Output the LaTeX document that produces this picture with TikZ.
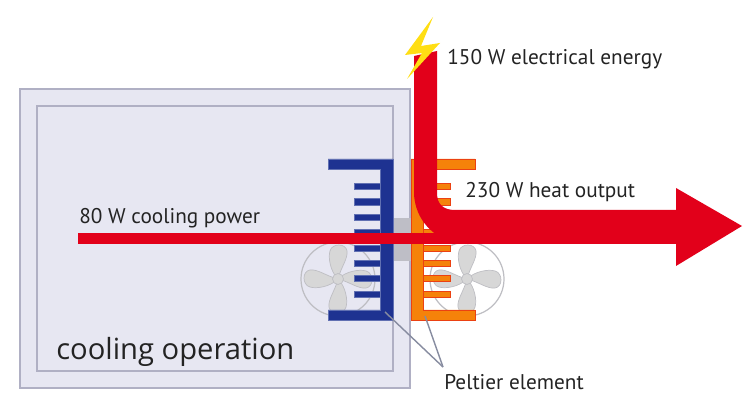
\documentclass[tikz,border=0pt]{standalone}
\usepackage{fontspec}
\setmainfont{PT Sans}
\newfontfamily\modefont{Open Sans}
\usepackage{xcolor}
\definecolor{cbred}{RGB}{226,0,26}
\definecolor{cbblue}{RGB}{30,50,145}
\definecolor{cborange}{RGB}{245,130,10}
\definecolor{cbyellow}{RGB}{255,222,20}
\definecolor{cbbox}{RGB}{231,231,242}
\definecolor{cbedge}{RGB}{176,176,196}
\definecolor{cbfan}{RGB}{215,215,215}
\definecolor{cbfanedge}{RGB}{190,190,195}
\definecolor{cbpeltier}{RGB}{190,190,198}
\definecolor{cblead}{RGB}{135,140,160}
\definecolor{cbtext}{RGB}{35,35,35}
\tikzstyle{leader} = [thick,color=cblead]

\begin{document}
\begin{tikzpicture}[
    x=0.02cm, y=-0.02cm,
    every node/.style={font=\fontsize{12.1}{14}\selectfont, text=cbtext, inner sep=0pt},
    wall/.style={draw=cbedge, line width=1pt, fill=cbbox},
    coldfin/.style={fill=cbblue, draw=cbblue!70!white, line width=0.3pt},
    hotfin/.style={fill=cborange, draw=cbred!50!cborange, line width=0.3pt},
    fan/.pic={
        \draw[cbfanedge, fill=none, line width=0.7pt] (0,0) circle (37);
        \foreach \a in {0,90,180,270}
            \draw[rotate=\a, fill=cbfan, draw=cbfanedge, line width=0.4pt]
                (0,0) .. controls (-8,-8) and (-10,-22) .. (-8,-28)
                .. controls (-6,-36) and (8,-36) .. (9,-28)
                .. controls (10,-20) and (3,-12) .. (0,0);
        \draw[fill=cbfan, draw=cbfanedge, line width=0.4pt] (0,0) circle (5.5);
    }
]

\useasboundingbox (0,0) rectangle (747,408);

% Cabinet walls
\draw[wall] (20,89) rectangle (410,388);
\draw[wall] (37,106) rectangle (393,371);

% Fans
\pic at (338,279) {fan};
\pic at (467,279) {fan};

% Peltier element
\fill[cbpeltier] (393,218) rectangle (411,261);

% Cold side heat sink
\path[coldfin] (328,159) -- (393,159) -- (393,320) -- (328,320) -- (328,310) -- (380,310) -- (380,169) -- (328,169) -- cycle;
\path[coldfin] (354,183) rectangle (380,189);
\path[coldfin] (354,198) rectangle (380,205);
\path[coldfin] (354,214) rectangle (380,220);
\path[coldfin] (354,229) rectangle (380,235);
\path[coldfin] (354,245) rectangle (380,251);
\path[coldfin] (354,260) rectangle (380,266);
\path[coldfin] (354,275) rectangle (380,281);
\path[coldfin] (354,291) rectangle (380,297);

% Hot side heat sink
\path[hotfin] (475,159) -- (411,159) -- (411,320) -- (475,320) -- (475,310) -- (423,310) -- (423,169) -- (475,169) -- cycle;
\path[hotfin] (423,183) rectangle (450,189);
\path[hotfin] (423,198) rectangle (450,205);
\path[hotfin] (423,214) rectangle (450,220);
\path[hotfin] (423,229) rectangle (450,235);
\path[hotfin] (423,245) rectangle (450,251);
\path[hotfin] (423,260) rectangle (450,266);
\path[hotfin] (423,275) rectangle (450,281);
\path[hotfin] (423,291) rectangle (450,297);

% Energy flow
\fill[cbred] (78,233) rectangle (460,244);
\fill[cbred] (414,56) -- (414,195) .. controls (416,220) and (432,236) .. (455,244)
    -- (676,244) -- (676,266) -- (742,226) -- (676,188) -- (676,210) -- (455,210)
    .. controls (443,210) and (437,204) .. (437,193) -- (437,51) -- cycle;

% Lightning
\fill[cbyellow] (433,17) -- (405,55) -- (422,53) -- (407,79) -- (440,43) -- (421,46) -- cycle;

% Labels
\node[anchor=west] (electric) at (447,59) {150 W electrical energy};
\node[anchor=west] (heat) at (465,192) {230 W heat output};
\node[anchor=west] (cooling) at (79,218) {80 W cooling power};
\node[anchor=west, font=\modefont\fontsize{16.6}{18}\selectfont] (mode) at (56,352) {cooling operation};
\node[anchor=west] (peltier) at (444,382) {Peltier element};

% Leaders
\coordinate (coldend) at (385,312);
\coordinate (hotend) at (425,316);
\coordinate (leaderend) at (443,367);
\draw[leader] (coldend) -- (leaderend);
\draw[leader] (hotend) -- (leaderend);

\end{tikzpicture}
\end{document}
